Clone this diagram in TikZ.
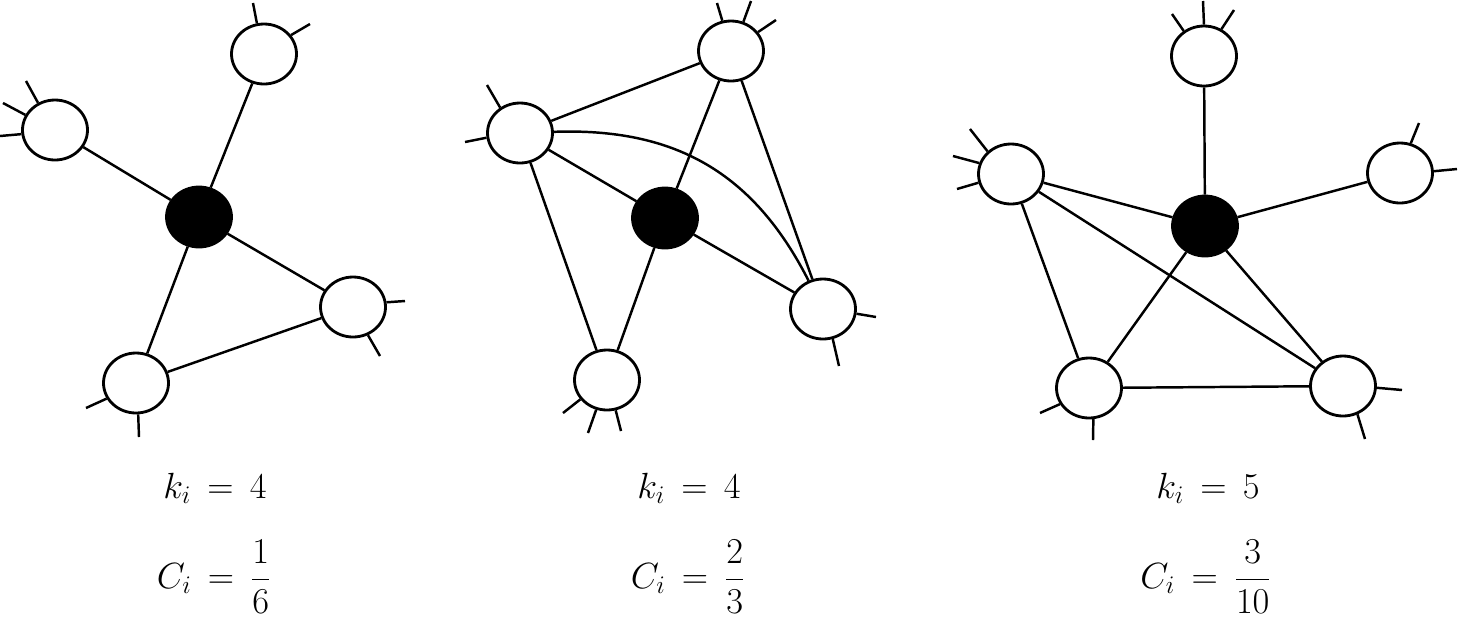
\documentclass[tikz,border=0pt]{standalone}
\usetikzlibrary{shapes.geometric}
\newcommand\stubline[3]{\coordinate (#1-#2) at #3; \draw[stub] (#1.#2) -- (#1-#2);}
\begin{document}
\begin{tikzpicture}[x=0.02cm,y=-0.02cm,
  vtx/.style={ellipse,draw,line width=1.6pt,fill=white,minimum width=1.3cm,minimum height=1.2cm,inner sep=0pt},
  hub/.style={vtx,fill=black},
  edge/.style={line width=1.4pt},
  stub/.style={line width=1.4pt},
  lab/.style={anchor=base,font=\fontsize{21}{25}\selectfont}]
\useasboundingbox (0,0) rectangle (1458,620);
% ---------- panel 1
\node[vtx] (t1) at (264,54) {};
\node[vtx] (l1) at (55,130) {};
\node[hub] (c1) at (199,217) {};
\node[vtx] (r1) at (353,307) {};
\node[vtx] (b1) at (136,383) {};
\draw[edge] (c1) -- (t1);
\draw[edge] (c1) -- (l1);
\draw[edge] (c1) -- (r1);
\draw[edge] (c1) -- (b1);
\draw[edge] (b1) -- (r1);
\stubline{t1}{103}{(253,3)}
\stubline{t1}{35}{(310,24)}
\stubline{l1}{122}{(26,81)}
\stubline{l1}{153}{(3,103)}
\stubline{l1}{187}{(0,136)}
\stubline{r1}{8}{(405,301)}
\stubline{r1}{298}{(380,356)}
\stubline{b1}{208}{(86,408)}
\stubline{b1}{274}{(139,437)}
\node[lab] (k1) at (215,498) {$k_i \,=\, 4$};
\node[lab] (cc1) at (214,588) {$\displaystyle C_i \,=\, \frac{1}{6}$};
% ---------- panel 2
\node[vtx] (t2) at (731,51) {};
\node[vtx] (l2) at (520,133) {};
\node[hub] (c2) at (665,218) {};
\node[vtx] (r2) at (823,309) {};
\node[vtx] (b2) at (607,380) {};
\draw[edge] (l2) -- (t2);
\draw[edge] (l2) -- (c2);
\draw[edge] (l2) -- (b2);
\draw[edge] (c2) -- (t2);
\draw[edge] (c2) -- (b2);
\draw[edge] (c2) -- (r2);
\draw[edge] (t2) -- (r2);
\draw[edge] (l2) to[out=2,in=117,looseness=1.05] (r2);
\stubline{t2}{106}{(717,3)}
\stubline{t2}{67}{(751,1)}
\stubline{t2}{35}{(776,20)}
\stubline{l2}{128}{(487,85)}
\stubline{l2}{188}{(465,142)}
\stubline{r2}{352}{(876,317)}
\stubline{r2}{288}{(839,366)}
\stubline{b2}{216}{(563,413)}
\stubline{b2}{250}{(588,433)}
\stubline{b2}{286}{(621,431)}
\node[lab] (k2) at (689,498) {$k_i \,=\, 4$};
\node[lab] (cc2) at (688,588) {$\displaystyle C_i \,=\, \frac{2}{3}$};
% ---------- panel 3
\node[vtx] (t3) at (1204,56) {};
\node[vtx] (l3) at (1011,174) {};
\node[vtx] (r3) at (1400,173) {};
\node[hub] (c3) at (1205,226) {};
\node[vtx] (bl3) at (1089,388) {};
\node[vtx] (br3) at (1343,386) {};
\draw[edge] (c3) -- (t3);
\draw[edge] (c3) -- (l3);
\draw[edge] (c3) -- (r3);
\draw[edge] (c3) -- (bl3);
\draw[edge] (c3) -- (br3);
\draw[edge] (l3) -- (bl3);
\draw[edge] (l3) -- (br3);
\draw[edge] (bl3) -- (br3);
\stubline{t3}{129}{(1172,14)}
\stubline{t3}{90}{(1203,1)}
\stubline{t3}{57}{(1234,10)}
\stubline{l3}{136}{(970,129)}
\stubline{l3}{161}{(953,156)}
\stubline{l3}{195}{(957,189)}
\stubline{r3}{70}{(1419,123)}
\stubline{r3}{3}{(1457,169)}
\stubline{bl3}{209}{(1040,413)}
\stubline{bl3}{278}{(1093,440)}
\stubline{br3}{357}{(1402,390)}
\stubline{br3}{297}{(1365,439)}
\node[lab] (k3) at (1208,498) {$k_i \,=\, 5$};
\node[lab] (cc3) at (1206,588) {$\displaystyle C_i \,=\, \frac{3}{10}$};
\end{tikzpicture}
\end{document}
